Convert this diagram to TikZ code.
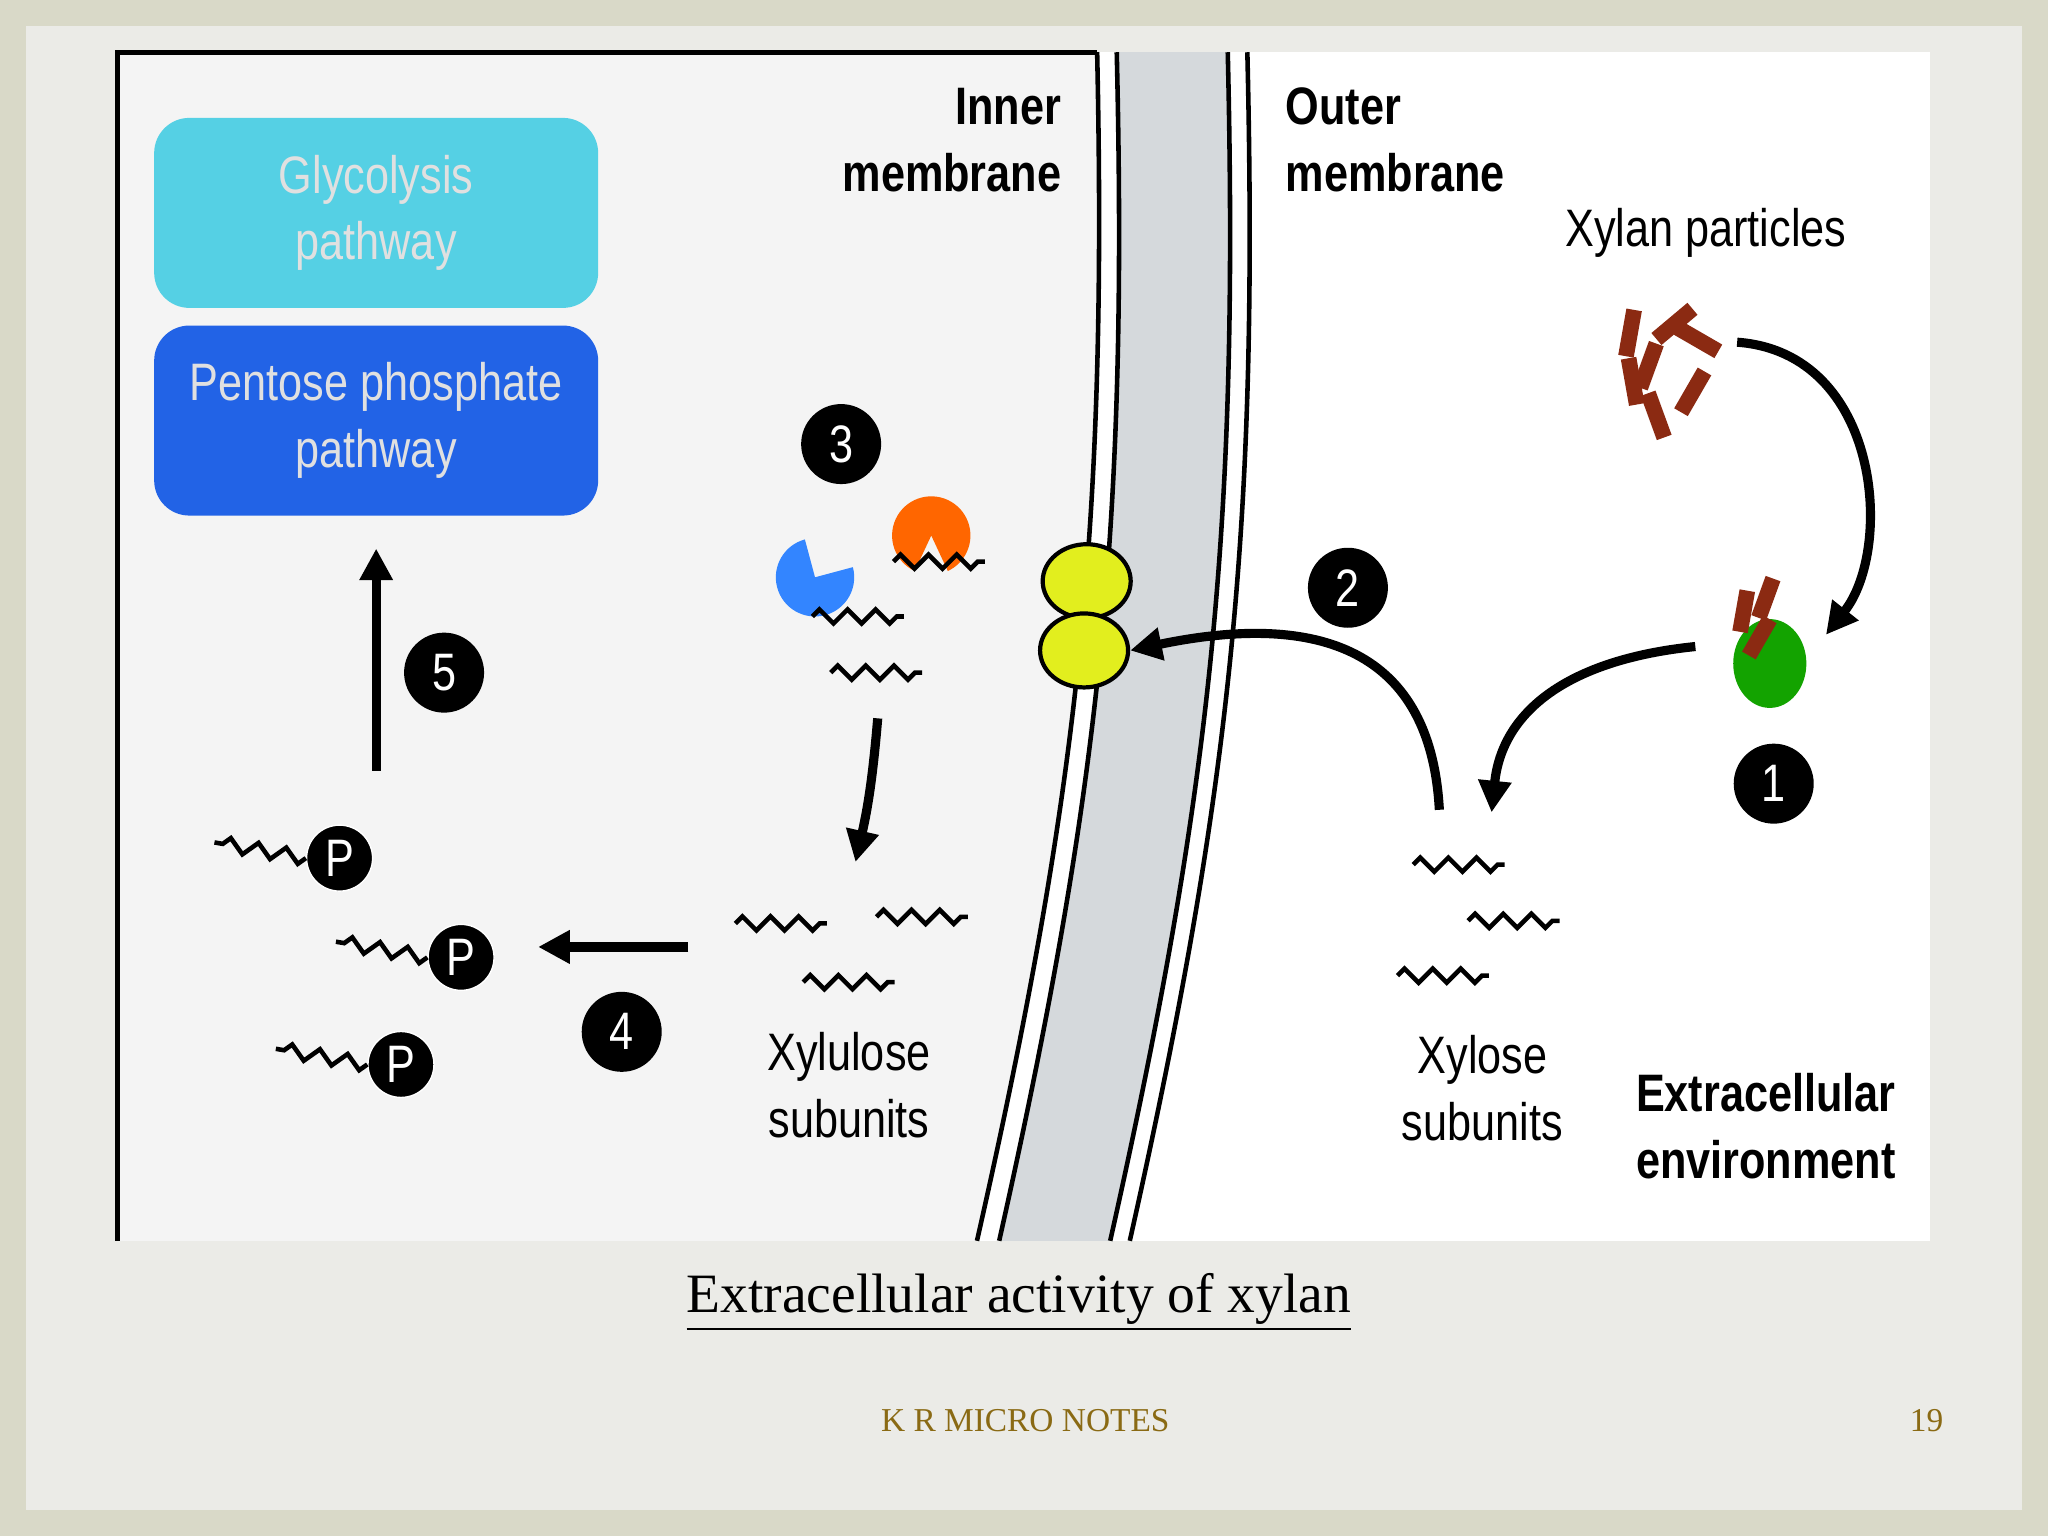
\documentclass[tikz,border=0pt]{standalone}
\usepackage{fontspec}
\setmainfont{Liberation Serif}
\setsansfont{Liberation Sans}
\newfontfamily\narrowsans[FakeStretch=0.82]{Liberation Sans}
\usetikzlibrary{arrows.meta,decorations.pathmorphing,shapes.geometric}

\definecolor{slideedge}{HTML}{D9D9C8}
\definecolor{slidein}{HTML}{EBEBE7}
\definecolor{cytoplasm}{HTML}{F4F4F4}
\definecolor{bandgrey}{HTML}{D5D9DC}
\definecolor{glyco}{HTML}{55D0E4}
\definecolor{pentose}{HTML}{2263E6}
\definecolor{porter}{HTML}{E2EE1E}
\definecolor{xylan}{HTML}{8B2A12}
\definecolor{footer}{HTML}{8A6A14}

\tikzset{
  stepmark/.style={circle, fill=black, minimum size=0.8cm, inner sep=0pt,
    text=white, font=\narrowsans\fontsize{15}{15}\selectfont},
  phos/.style={circle, fill=black, draw=white, minimum size=0.66cm, inner sep=0pt,
    text=white, font=\narrowsans\fontsize{15}{15}\selectfont},
  flow/.style={line width=2.6pt, -{Triangle[length=9pt,width=9pt]}},
  wave/.style={line width=1.3pt, decorate,
    decoration={zigzag, amplitude=2pt, segment length=8pt}},
  lbl/.style={font=\narrowsans\fontsize{15}{19}\selectfont, align=center},
  heavy/.style={font=\narrowsans\bfseries\fontsize{15}{19}\selectfont},
  pathbox/.style={rounded corners=10pt, minimum width=4.44cm, minimum height=1.9cm,
    text=white!88!black, font=\narrowsans\fontsize{15}{19}\selectfont, align=center},
  porthalf/.style={ellipse, fill=porter, draw=black, line width=1.2pt,
    minimum width=0.88cm, minimum height=0.74cm},
  memline/.style={line width=1.3pt},
}

\begin{document}
\begin{tikzpicture}[x=0.01306cm, y=-0.01306cm]
  \useasboundingbox (0,0) rectangle (1568,1176);
  \fill[slideedge] (0,0) rectangle (1568,1176);
  \fill[slidein] (20,20) rectangle (1548,1156);
  % panel
  \fill[white] (90,40) rectangle (1478,950);
  \fill[cytoplasm] (90,40) -- (840,40) to[bend left=7] (748,950) -- (90,950) -- cycle;
  \draw[line width=1.5pt] (90,950) -- (90,40) -- (840,40);
  \fill[bandgrey] (855,40) -- (940,40) to[bend left=7] (850,950) -- (765,950) to[bend right=7] cycle;
  \draw[memline] (840,40) to[bend left=7] (748,950);
  \draw[memline] (855,40) to[bend left=7] (765,950);
  \draw[memline] (940,40) to[bend left=7] (850,950);
  \draw[memline] (955,40) to[bend left=7] (865,950);

  % labels
  \node[heavy, align=right, anchor=east] (inner) at (822,107) {Inner\\membrane};
  \node[heavy, align=left, anchor=west] (outer) at (975,107) {Outer\\membrane};
  \node[lbl] (xylanlbl) at (1306,178) {Xylan particles};
  \node[lbl] (xylulose) at (650,831) {Xylulose\\subunits};
  \node[lbl] (xylose) at (1135,833) {Xylose\\subunits};
  \node[heavy, align=left] (extra) at (1352,862) {Extracellular\\environment};

  % pathways
  \node[pathbox, fill=glyco] (glyco) at (288,163) {Glycolysis\\pathway};
  \node[pathbox, fill=pentose] (pentose) at (288,322) {Pentose phosphate\\pathway};

  % step markers
  \node[stepmark] (s1) at (1358,600) {1};
  \node[stepmark] (s2) at (1032,450) {2};
  \node[stepmark] (s3) at (644,340) {3};
  \node[stepmark] (s4) at (476,790) {4};
  \node[stepmark] (s5) at (340,515) {5};

  % phosphorylated sugars
  \foreach \n/\x/\y in {pa/260/657, pb/353/733, pc/307/815} {
    \node[phos] (\n) at (\x,\y) {P};
    \draw[wave] (\n.west) -- ++(-70,-12);
  }

  % step 5 and 4
  \coordinate (up5) at (288,590);
  \draw[flow] (up5) -- (288,420);
  \coordinate (left4) at (527,725);
  \draw[flow] (left4) -- (412,725);

  % xylulose waves
  \foreach \x/\y in {563/707, 671/702, 615/752}
    \draw[wave] (\x,\y) -- ++(70,0);

  % enzymes step 3
  \fill[blue!60!cyan!80!white] (624,442) -- ++(-15:30) arc (-15:255:30) -- cycle;
  \fill[orange!80!red] (713,410) -- ++(115:30) arc (115:425:30) -- cycle;
  \foreach \x/\y in {622/472, 636/515, 684/430}
    \draw[wave] (\x,\y) -- ++(70,0);
  \coordinate (down3) at (672,550);
  \draw[flow] (down3) to[bend left=4] (655,660);

  % transporter
  \node[porthalf] (porta) at (832,445) {};
  \node[porthalf] (portb) at (830,498) {};

  % step 2 and 1 arrows
  \coordinate (src2) at (1102,620);
  \draw[flow] (src2) .. controls (1095,490) and (1000,470) .. (portb.east);
  \coordinate (src1) at (1298,495);
  \draw[flow] (src1) .. controls (1200,505) and (1150,545) .. (1142,622);
  \coordinate (srcx) at (1330,262);
  \draw[flow] (srcx) .. controls (1440,270) and (1450,420) .. (1398,486);

  % xylose waves
  \foreach \x/\y in {1082/662, 1124/705, 1070/747}
    \draw[wave] (\x,\y) -- ++(70,0);

  % xylan particles
  \foreach \x/\y/\a in {1248/255/80, 1262/280/70, 1250/292/100, 1282/248/40, 1296/300/60, 1268/318/110, 1300/260/-30}
    \fill[xylan, rotate around={\a:(\x,\y)}] (\x-18,\y-6) rectangle (\x+18,\y+6);
  % green enzyme with particles
  \fill[green!60!black!90!lime] (1355,508) ellipse (28 and 34);
  \foreach \x/\y/\a in {1335/468/80, 1352/458/70, 1347/488/60}
    \fill[xylan, rotate around={\a:(\x,\y)}] (\x-16,\y-6) rectangle (\x+16,\y+6);

  % caption and footer
  \node[font=\fontsize{15.8}{18}\selectfont] (caption) at (780,997) {\underline{Extracellular activity of xylan}};
  \node[font=\fontsize{9.5}{11}\selectfont, text=footer] (foot) at (785,1088) {K R MICRO NOTES};
  \node[font=\fontsize{9.5}{11}\selectfont, text=footer] (page) at (1475,1088) {19};
\end{tikzpicture}
\end{document}
